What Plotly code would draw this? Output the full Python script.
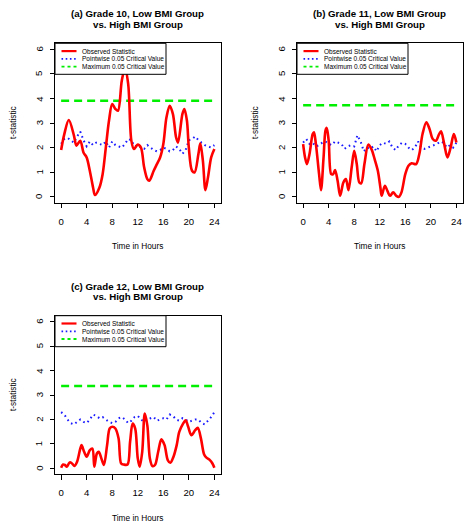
import plotly.graph_objects as go

# observed statistic (red)
t_a = [0, 0.5, 1.2, 2, 2.4, 3, 3.5, 4, 4.5, 5, 5.3, 6, 6.5, 7, 7.5, 8, 8.5, 8.9,
       9.5, 10, 10.5, 11, 11.4, 12, 12.5, 13, 13.5, 13.8, 14.5, 15, 15.5, 16,
       16.5, 17, 17.5, 18, 18.3, 19, 19.3, 19.7, 20, 20.5, 20.9, 21.5, 21.8,
       22.2, 22.6, 23, 23.5, 24]
obs_a = [1.9, 2.55, 3.12, 2.5, 2.08, 2.28, 1.8, 1.6, 1.05, 0.38, 0.07, 0.38, 0.92,
         2.0, 3.1, 3.77, 3.57, 3.5, 4.72, 5.22, 4.59, 2.28, 1.94, 2.12, 2.0, 1.2,
         0.72, 0.65, 1.06, 1.33, 1.6, 2.14, 3.23, 3.7, 3.37, 2.42, 2.2, 3.37,
         3.57, 3.1, 2.0, 1.06, 0.99, 1.74, 2.17, 1.47, 0.27, 0.79, 1.6, 1.94]

t_b = [0, 0.3, 0.6, 1, 1.5, 1.7, 2, 2.5, 2.8, 3.2, 3.5, 3.7, 4, 4.4, 4.7, 5, 5.4,
       5.8, 6.3, 6.7, 7.1, 7.6, 8, 8.4, 8.8, 9.1, 9.6, 10.2, 10.7, 11.2, 11.7,
       12.1, 12.3, 12.8, 13.2, 13.6, 14.1, 14.6, 15, 15.4, 16, 16.5, 17, 17.7,
       18.2, 18.7, 19.3, 19.8, 20.3, 20.8, 21.3, 21.6, 22.1, 22.6, 23.1, 23.6, 24]
obs_b = [2.14, 1.6, 1.33, 1.74, 2.55, 2.62, 2.14, 0.92, 0.27, 1.6, 2.69, 2.8, 2.28,
         0.92, 0.92, 1.09, 0.65, 0.04, 0.58, 0.72, 0.27, 1.19, 1.87, 1.33, 0.58,
         0.55, 1.33, 2.12, 1.94, 1.53, 1.06, 0.38, 0.04, 0.45, 0.24, 0.04, 0.18,
         0.04, 0.0, 0.18, 0.92, 1.26, 1.36, 1.33, 1.74, 2.55, 3.03, 2.76, 2.35,
         2.28, 2.55, 2.66, 2.14, 1.6, 2.0, 2.55, 2.21]

t_c = [0, 0.3, 0.6, 0.9, 1.3, 1.6, 2.1, 2.5, 3, 3.2, 3.6, 4, 4.5, 4.9, 5.2, 5.6,
       5.9, 6.3, 6.7, 7.2, 7.6, 8, 8.5, 9, 9.4, 9.8, 10.4, 10.8, 11.2, 11.6, 12,
       12.3, 12.7, 13.1, 13.5, 13.9, 14.3, 14.7, 15.2, 15.7, 16.2, 16.7, 17.1,
       17.6, 18.1, 18.5, 19.1, 19.5, 19.9, 20.4, 21, 21.4, 21.9, 22.4, 22.8,
       23.3, 23.7, 24]
obs_c = [0.03, 0.16, 0.14, 0.07, 0.24, 0.23, 0.1, 0.27, 0.81, 0.95, 0.68, 0.48,
         0.75, 0.81, 0.07, 0.61, 0.68, 0.41, 0.14, 0.95, 1.63, 1.7, 1.63, 1.22,
         0.2, 0.16, 0.16, 1.09, 1.83, 1.63, 0.41, 0.07, 0.68, 2.24, 1.76, 0.41,
         0.1, 0.14, 0.68, 1.19, 0.95, 0.34, 0.23, 0.48, 0.95, 1.49, 1.83, 1.97,
         1.7, 1.36, 1.56, 1.66, 1.22, 0.57, 0.43, 0.34, 0.2, 0.03]

# pointwise 0.05 critical values (blue), every half hour
t_grid = [i / 2 for i in range(49)]
pw_a = [2.15, 2.35, 2.4, 2.3, 2.2, 2.45, 2.65, 2.3, 2.05, 2.25, 2.1, 2.2, 2.15,
        2.1, 2.25, 2.0, 2.25, 2.1, 2.05, 2.0, 2.15, 2.35, 2.3, 2.05, 2.1, 2.0,
        1.95, 2.1, 2.0, 1.9, 1.85, 1.9, 2.0, 1.95, 1.85, 1.9, 2.05, 1.95, 1.75,
        1.9, 2.3, 2.35, 2.45, 2.3, 2.2, 2.1, 2.05, 2.0, 2.1]
pw_b = [2.2, 2.35, 2.15, 2.2, 2.05, 2.1, 2.2, 2.25, 2.15, 2.1, 2.25, 2.2, 2.15,
        1.95, 2.05, 2.1, 2.05, 2.5, 2.25, 1.85, 2.0, 1.95, 2.05, 1.85, 2.1, 2.2,
        2.15, 2.25, 2.0, 1.9, 2.1, 2.2, 2.15, 2.0, 1.9, 2.0, 2.25, 2.0, 1.95,
        2.0, 2.05, 2.1, 2.15, 2.25, 2.2, 2.0, 2.1, 2.0, 2.2]
pw_c = [2.3, 2.2, 2.0, 1.85, 1.8, 1.9, 2.0, 1.9, 1.85, 2.0, 2.2, 2.15, 2.05,
        2.1, 2.0, 1.9, 1.85, 1.9, 2.05, 2.1, 2.0, 1.85, 1.95, 2.1, 2.15, 2.0,
        1.9, 2.0, 2.05, 2.1, 1.95, 2.0, 2.05, 2.0, 2.2, 2.15, 2.0, 1.95, 2.05,
        2.0, 1.9, 1.95, 2.0, 2.0, 1.85, 1.8, 1.95, 2.1, 2.3]

# maximum 0.05 critical values (green)
max_crit = [3.9, 3.72, 3.37]

titles = [("(a) Grade 10, Low BMI Group", "vs. High BMI Group"),
          ("(b) Grade 11, Low BMI Group", "vs. High BMI Group"),
          ("(c) Grade 12, Low BMI Group", "vs. High BMI Group")]
legend_names = ["Observed Statistic", "Pointwise 0.05 Critical Value",
                "Maximum 0.05 Critical Value"]
x_ticks = [0, 4, 8, 12, 16, 20, 24]
y_ticks = [0, 1, 2, 3, 4, 5, 6]

W, H = 474, 531
FONT = "Liberation Sans, Arial, sans-serif"
RED, BLUE, GREEN = "#ff0000", "#1a1aff", "#00ee00"

# panel boxes in pixels: left, right, top, bottom
boxes = [(55, 220.5, 43.3, 202.7), (297, 462.5, 43.3, 202.7), (55, 220.5, 315.7, 474.3)]
series = [(t_a, obs_a, pw_a), (t_b, obs_b, pw_b), (t_c, obs_c, pw_c)]

fig = go.Figure()
annotations = []
shapes = []


def label(text, x, y, size, bold=False, angle=0):
    return dict(text="<b>%s</b>" % text if bold else text, x=x / W, y=1 - y / H,
                xref="paper", yref="paper", xanchor="center", yanchor="middle",
                showarrow=False, textangle=angle,
                font=dict(family=FONT, size=size, color="black"))


for i, ((l, r, tp, bt), (tt, obs, pw)) in enumerate(zip(boxes, series)):
    n = "" if i == 0 else str(i + 1)
    xa, ya = "x" + n, "y" + n
    fig.add_trace(go.Scatter(x=t_grid, y=pw, mode="lines", xaxis=xa, yaxis=ya,
                             line=dict(color=BLUE, width=2, dash="1.6px,3.4px"),
                             showlegend=False))
    fig.add_trace(go.Scatter(x=[0, 24], y=[max_crit[i]] * 2, mode="lines",
                             xaxis=xa, yaxis=ya,
                             line=dict(color=GREEN, width=2.5, dash="8px,5px"),
                             showlegend=False))
    fig.add_trace(go.Scatter(x=tt, y=obs, mode="lines", xaxis=xa, yaxis=ya,
                             line=dict(color=RED, width=2.6, shape="spline", smoothing=0.9),
                             showlegend=False))

    axis_common = dict(showline=True, mirror=True, linecolor="black", linewidth=1,
                       ticks="outside", ticklen=4.5, tickcolor="black", tickwidth=1,
                       showgrid=False, zeroline=False,
                       tickfont=dict(family=FONT, size=9.6, color="black"))
    fig.update_layout(**{
        "xaxis" + n: dict(domain=[l / W, r / W], anchor=ya, range=[-0.96, 24.96],
                          tickvals=x_ticks, ticklabelstandoff=5, **axis_common),
        "yaxis" + n: dict(domain=[1 - bt / H, 1 - tp / H], anchor=xa, range=[-0.24, 6.24],
                          tickvals=y_ticks, showticklabels=False, **axis_common),
    })

    # rotated y tick labels, R style
    for v in y_ticks:
        annotations.append(dict(text=str(v), xref=xa + " domain", yref=ya,
                                x=-15.7 / (r - l), y=v, xanchor="center",
                                yanchor="middle", showarrow=False, textangle=-90,
                                font=dict(family=FONT, size=9.6, color="black")))

    cx = (l + r) / 2
    annotations.append(label(titles[i][0], cx, tp - 29.5, 9.7, bold=True))
    annotations.append(label(titles[i][1], cx, tp - 19.3, 9.7, bold=True))
    annotations.append(label("Time in Hours", cx, bt + 43.5, 8.3))
    annotations.append(label("t-statistic", l - 42, (tp + bt) / 2, 8.3, angle=-90))

    # legend box drawn inside the top-left corner
    xd, yd = xa + " domain", ya + " domain"
    bw, bh = 111 / (r - l), 31 / (bt - tp)
    shapes.append(dict(type="rect", xref=xd, yref=yd, x0=0, x1=bw, y0=1 - bh, y1=1,
                       line=dict(color="black", width=1), fillcolor="white"))
    rows = [7.8, 15.6, 23.3]
    styles = [dict(color=RED, width=2.2), dict(color=BLUE, width=1.8, dash="1.6px,2.6px"),
              dict(color=GREEN, width=1.8, dash="3px,3px")]
    for row, name, st in zip(rows, legend_names, styles):
        yy = 1 - row / (bt - tp)
        shapes.append(dict(type="line", xref=xd, yref=yd, x0=6.5 / (r - l),
                           x1=21.5 / (r - l), y0=yy, y1=yy, line=st))
        annotations.append(dict(text=name, xref=xd, yref=yd, x=25 / (r - l), y=yy,
                                xanchor="left", yanchor="middle", showarrow=False,
                                font=dict(family=FONT, size=6.5, color="black")))

fig.update_layout(width=W, height=H, margin=dict(l=0, r=0, t=0, b=0),
                  paper_bgcolor="white", plot_bgcolor="white",
                  showlegend=False, annotations=annotations, shapes=shapes)

fig.write_html("out.html", config={"displayModeBar": False},
               post_script="document.body.style.margin='0';")
